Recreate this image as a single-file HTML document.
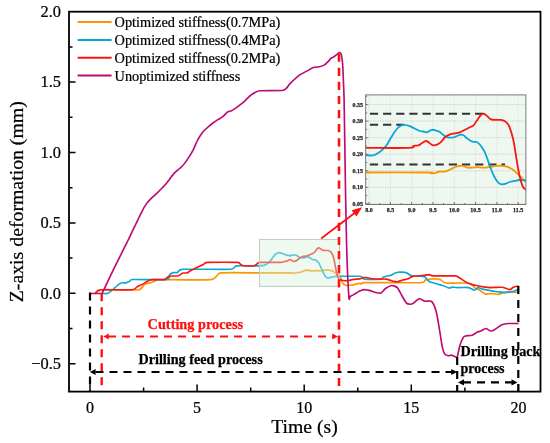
<!DOCTYPE html><html><head><meta charset="utf-8"><title>Z-axis deformation</title><style>html,body{margin:0;padding:0;background:#fff;width:550px;height:443px;overflow:hidden}svg{display:block}.k{stroke:#000;stroke-width:0.22px}.kb{stroke:#000;stroke-width:0.25px}.rb{stroke:#FF1010;stroke-width:0.25px}</style></head><body><svg width="550" height="443" viewBox="0 0 550 443">
<rect width="550" height="443" fill="#fff"/>
<defs><clipPath id="cm"><rect x="69" y="11.7" width="471.5" height="379.9"/></clipPath><clipPath id="ci"><rect x="365.7" y="94.9" width="160.2" height="109.6"/></clipPath></defs>
<g clip-path="url(#cm)" fill="none" stroke-width="1.65" stroke-linejoin="round" stroke-linecap="round">
<path d="M96.0,292.5 C96.7,292.2 99.1,290.2 102.7,290.0 C106.3,289.8 128.7,290.0 132.2,290.0 C135.7,290.0 137.0,290.1 137.8,290.0 C138.7,289.9 140.0,289.5 140.7,289.0 C141.4,288.5 143.7,285.2 144.4,284.6 C145.1,284.0 147.3,283.4 148.0,283.2 C148.7,283.0 150.9,282.7 151.6,282.5 C152.3,282.3 154.6,281.3 155.3,281.0 C156.0,280.7 152.6,279.7 158.2,279.6 C163.8,279.5 204.7,280.3 210.9,279.6 C217.2,278.9 216.1,273.6 220.7,272.9 C225.3,272.2 253.1,272.9 257.0,272.9 C260.9,272.9 256.3,272.9 259.7,272.9 C263.0,272.9 287.3,272.9 290.5,272.9 C293.8,273.0 291.9,273.2 292.4,273.3 C292.8,273.3 294.5,273.1 294.9,273.0 C295.3,273.0 296.3,272.5 296.8,272.5 C297.2,272.4 299.0,272.6 299.5,272.5 C300.1,272.5 301.5,271.9 302.0,271.7 C302.6,271.5 304.5,270.6 305.2,270.4 C305.8,270.3 307.7,270.1 308.3,270.1 C308.8,270.2 310.2,270.8 310.7,270.8 C311.2,270.9 312.7,270.9 313.3,270.8 C313.8,270.8 315.2,270.6 315.8,270.6 C316.3,270.6 318.3,270.8 318.9,270.8 C319.5,270.8 321.4,270.7 322.0,270.6 C322.6,270.5 324.5,270.2 325.1,270.1 C325.7,270.1 327.7,270.1 328.3,270.1 C328.9,270.2 330.8,270.4 331.4,270.6 C332.0,270.8 333.4,271.6 333.9,271.9 C334.3,272.2 335.4,273.0 335.8,273.3 C336.2,273.6 337.2,274.5 337.6,274.8 C338.1,275.1 339.7,275.5 340.2,276.3 C340.7,277.1 341.9,282.4 342.6,283.3 C343.3,284.2 346.0,285.3 346.8,285.5 C347.6,285.7 349.7,285.3 350.5,285.2 C351.3,285.1 354.2,284.6 355.0,284.4 C355.8,284.2 358.2,283.4 358.8,283.4 C359.4,283.4 360.8,284.1 361.4,284.0 C362.0,283.9 359.3,282.7 365.2,282.6 C371.1,282.5 414.0,282.9 420.0,282.7 C426.0,282.5 424.2,280.7 425.0,280.3 C425.8,279.9 426.8,279.3 428.3,279.2 C429.8,279.1 438.0,278.8 439.7,279.2 C441.4,279.6 443.1,282.6 445.7,283.0 C448.3,283.4 463.0,283.0 465.3,283.0 C467.6,283.0 467.8,283.0 468.6,283.3 C469.4,283.6 472.3,285.2 473.0,285.7 C473.7,286.2 474.7,288.0 475.2,288.4 C475.7,288.8 477.8,289.2 478.4,289.5 C479.0,289.8 481.0,291.2 481.7,291.7 C482.4,292.2 484.9,293.9 485.6,294.1 C486.3,294.3 488.2,293.7 489.0,293.7 C489.8,293.7 492.8,293.6 493.7,293.7 C494.6,293.8 497.6,294.5 498.5,294.4 C499.4,294.3 501.6,293.2 502.5,293.0 C503.4,292.8 506.8,292.5 507.9,292.4 C509.0,292.3 512.4,292.1 513.4,292.1 C514.4,292.1 517.8,292.4 518.3,292.4" stroke="#FA9600"/>
<path d="M102.3,293.5 C102.8,293.5 106.8,293.8 107.7,293.5 C108.6,293.2 110.2,291.6 110.9,291.0 C111.6,290.4 114.2,288.4 115.0,287.7 C115.8,287.0 118.4,284.6 119.1,284.1 C119.8,283.6 121.7,282.9 122.4,282.8 C123.1,282.7 125.8,283.0 126.5,282.8 C127.2,282.6 129.0,281.5 129.7,281.2 C130.3,280.9 129.3,279.7 133.0,279.5 C136.7,279.3 162.9,280.0 166.6,279.5 C170.3,279.0 169.1,275.3 169.8,274.6 C170.5,273.9 172.5,272.8 173.3,272.6 C174.1,272.4 176.4,272.9 177.4,272.6 C178.4,272.3 177.8,269.6 183.1,269.3 C188.4,269.0 225.3,269.6 230.6,269.3 C235.9,269.0 233.7,266.2 236.3,265.9 C238.9,265.6 254.7,265.9 257.0,265.9 C259.3,265.9 259.0,265.7 259.7,265.6 C260.3,265.6 262.5,265.7 263.1,265.6 C263.6,265.6 264.5,265.3 264.9,265.1 C265.4,264.9 266.9,264.1 267.4,263.7 C267.9,263.4 269.5,262.1 269.9,261.6 C270.3,261.1 271.4,259.5 271.8,259.0 C272.1,258.4 273.3,256.8 273.7,256.3 C274.1,255.8 275.2,254.5 275.5,254.2 C275.9,253.9 277.0,253.1 277.4,253.0 C277.8,252.8 278.9,252.6 279.3,252.6 C279.7,252.6 281.3,253.0 281.8,253.2 C282.3,253.3 283.8,254.0 284.3,254.2 C284.8,254.4 286.4,255.1 286.8,255.3 C287.2,255.4 288.3,255.4 288.7,255.5 C289.0,255.5 290.1,255.9 290.5,255.8 C290.9,255.7 292.3,254.8 292.8,254.7 C293.2,254.7 294.5,255.0 294.9,255.0 C295.3,255.1 296.4,255.4 296.8,255.6 C297.2,255.8 298.5,256.9 298.9,257.1 C299.3,257.3 300.3,257.9 300.8,257.9 C301.3,258.0 303.3,258.0 303.9,257.9 C304.5,257.8 306.5,257.0 307.0,256.9 C307.5,256.8 308.5,256.9 308.9,257.1 C309.2,257.2 310.3,258.2 310.7,258.4 C311.2,258.7 312.7,259.7 313.3,259.8 C313.8,260.0 315.3,259.8 315.8,260.0 C316.2,260.2 317.2,261.2 317.6,261.6 C318.0,262.1 319.2,263.6 319.5,264.3 C319.9,265.0 321.0,267.6 321.4,268.5 C321.8,269.3 322.9,272.0 323.3,272.8 C323.6,273.5 324.7,275.4 325.1,275.9 C325.5,276.4 326.6,277.5 327.0,277.7 C327.5,277.9 329.0,277.9 329.5,277.8 C330.0,277.7 331.5,277.1 332.0,277.0 C332.5,276.8 334.0,276.5 334.5,276.5 C335.0,276.4 336.7,276.1 337.0,276.1 C337.4,276.1 335.9,276.3 338.2,276.3 C340.5,276.3 357.7,276.1 360.1,276.3 C362.5,276.5 362.2,277.6 362.6,277.9 C363.0,278.2 362.7,279.1 364.5,279.2 C366.3,279.3 378.5,279.4 380.4,279.2 C382.3,279.0 382.9,277.3 383.6,277.0 C384.3,276.7 386.3,276.2 387.0,276.0 C387.7,275.8 389.7,275.7 390.6,275.4 C391.5,275.1 394.9,273.1 395.7,272.8 C396.5,272.5 397.3,272.2 398.3,272.2 C399.3,272.2 404.2,272.1 405.3,272.4 C406.4,272.6 409.1,274.3 409.7,274.7 C410.3,275.1 410.3,275.7 411.6,275.9 C412.9,276.1 421.4,276.3 422.7,276.4 C424.0,276.5 424.6,276.7 425.0,277.0 C425.4,277.3 426.7,279.2 427.2,279.7 C427.7,280.2 429.2,281.6 429.9,281.9 C430.5,282.2 432.8,282.7 433.7,283.0 C434.6,283.3 438.2,284.3 439.2,284.6 C440.2,284.9 442.6,285.4 443.5,285.7 C444.4,286.0 447.3,287.5 447.9,287.7 C448.5,287.9 449.1,288.2 449.5,288.1 C449.9,288.0 451.5,287.2 452.3,287.1 C453.1,287.1 456.3,287.6 457.7,287.6 C459.1,287.6 465.2,287.4 466.4,287.4 C467.6,287.4 468.9,287.6 469.7,287.9 C470.5,288.2 473.7,290.2 474.5,290.2 C475.3,290.2 477.4,287.8 478.0,287.6 C478.6,287.4 480.0,288.4 481.0,288.6 C482.0,288.9 486.0,289.8 487.6,290.1 C489.2,290.4 495.6,291.5 497.1,291.7 C498.6,291.9 501.4,292.4 502.5,292.4 C503.6,292.4 506.8,292.2 507.9,292.1 C509.0,292.0 512.4,291.6 513.4,291.4 C514.4,291.1 517.8,289.8 518.3,289.6" stroke="#0AA8D5"/>
<path d="M95.5,292.9 C95.8,292.6 97.5,290.5 98.2,290.2 C98.9,289.9 99.3,289.8 102.7,289.7 C106.1,289.6 128.8,290.0 132.2,289.7 C135.6,289.4 136.0,287.5 137.1,286.9 C138.2,286.3 142.4,284.3 143.6,283.6 C144.8,282.9 148.6,280.7 149.5,280.3 C150.4,279.9 150.9,279.7 152.4,279.6 C153.9,279.5 162.8,279.9 164.5,279.6 C166.2,279.3 167.7,276.6 169.0,276.2 C170.3,275.8 176.4,276.1 177.5,276.0 C178.6,275.9 179.4,275.1 180.0,274.8 C180.6,274.5 182.3,273.2 183.0,273.0 C183.7,272.8 186.3,273.2 187.0,273.0 C187.7,272.8 189.3,271.4 190.0,271.0 C190.7,270.6 193.1,269.4 194.0,269.0 C194.9,268.6 198.1,266.9 199.0,266.5 C199.9,266.1 202.2,265.2 203.0,264.8 C203.8,264.4 204.1,262.6 207.5,262.4 C210.9,262.2 234.0,262.2 237.3,262.4 C240.6,262.6 239.9,264.0 240.5,264.3 C241.1,264.6 241.8,265.6 243.2,265.7 C244.6,265.8 252.7,265.9 254.1,265.7 C255.5,265.5 256.9,263.9 257.5,263.6 C258.1,263.3 257.2,262.6 259.7,262.4 C262.1,262.3 279.1,262.5 281.5,262.4 C283.9,262.4 283.2,261.7 283.6,261.6 C284.1,261.5 285.7,261.5 286.1,261.4 C286.6,261.3 287.6,260.6 288.0,260.4 C288.4,260.2 289.6,259.5 289.9,259.5 C290.3,259.5 291.2,260.1 291.5,260.2 C291.9,260.4 292.9,261.2 293.3,261.3 C293.7,261.4 295.1,261.2 295.5,261.1 C295.9,261.0 297.0,260.3 297.4,260.0 C297.8,259.7 299.1,258.3 299.5,257.9 C300.0,257.6 301.5,256.8 302.0,256.7 C302.5,256.5 304.0,256.4 304.5,256.3 C305.0,256.2 306.5,256.0 307.0,255.8 C307.5,255.7 309.0,255.0 309.5,254.7 C310.0,254.5 311.6,253.9 312.0,253.7 C312.4,253.5 313.5,253.1 313.9,252.8 C314.3,252.5 315.4,251.0 315.8,250.5 C316.1,250.1 317.3,248.7 317.6,248.4 C317.9,248.1 318.6,247.8 318.9,247.9 C319.2,247.9 320.4,248.7 320.7,248.9 C321.1,249.2 322.2,250.2 322.7,250.3 C323.1,250.5 324.6,250.5 325.1,250.5 C325.6,250.6 327.1,250.4 327.6,250.5 C328.1,250.6 329.7,251.1 330.1,251.4 C330.6,251.7 331.6,252.9 332.0,253.7 C332.4,254.4 333.6,257.8 333.9,259.0 C334.2,260.2 334.9,264.1 335.1,265.3 C335.4,266.6 336.1,270.6 336.4,271.7 C336.6,272.8 337.4,275.7 337.6,276.5 C337.9,277.2 338.7,279.0 338.9,279.3 C339.1,279.6 338.9,279.3 339.2,279.4 C339.5,279.5 341.7,280.2 342.3,280.4 C342.9,280.5 344.6,280.9 345.3,280.9 C346.0,280.9 348.6,280.5 349.4,280.4 C350.2,280.2 352.5,279.5 353.5,279.4 C354.5,279.2 358.6,279.1 359.6,278.9 C360.6,278.7 362.9,277.7 363.6,277.6 C364.3,277.5 365.9,277.5 366.7,277.6 C367.5,277.7 370.6,278.6 371.8,278.7 C373.0,278.8 377.5,279.1 379.0,279.1 C380.5,279.1 384.9,278.9 386.4,279.1 C387.9,279.3 392.5,281.0 393.6,281.3 C394.7,281.6 396.4,281.9 397.3,281.8 C398.2,281.7 401.7,280.3 402.7,280.0 C403.7,279.7 406.3,279.5 407.3,279.1 C408.3,278.7 411.2,276.8 412.7,276.4 C414.2,276.0 421.0,275.7 422.7,275.5 C424.4,275.3 428.3,274.6 429.4,274.6 C430.4,274.6 430.6,275.8 433.2,275.9 C435.8,276.0 452.9,275.7 455.5,275.9 C458.1,276.1 457.7,276.9 458.8,277.5 C459.9,278.1 465.2,281.7 466.4,282.4 C467.6,283.1 469.8,283.8 470.8,284.1 C471.8,284.4 475.0,285.2 476.3,285.5 C477.6,285.8 482.2,286.7 483.6,286.9 C485.0,287.1 488.9,287.6 490.3,287.6 C491.7,287.6 495.9,287.3 497.1,287.3 C498.3,287.3 501.6,287.2 502.5,287.3 C503.4,287.4 505.1,288.1 505.9,288.3 C506.6,288.5 509.2,289.7 510.0,289.6 C510.8,289.5 512.7,287.6 513.4,287.3 C514.1,287.0 516.2,286.4 516.7,286.3 C517.2,286.2 518.1,286.3 518.3,286.3" stroke="#FA1610"/>
<path d="M90.0,293.5 C91.2,293.5 100.3,293.6 101.6,293.5 C102.9,293.4 101.8,293.9 102.6,292.3 C103.4,290.7 108.2,280.6 109.6,277.6 C111.0,274.6 115.6,265.2 116.9,262.6 C118.2,260.0 121.4,253.6 122.5,251.3 C123.6,249.0 127.1,242.2 128.2,240.0 C129.3,237.8 132.4,231.1 133.5,228.8 C134.6,226.6 138.2,219.2 139.0,217.5 C139.8,215.8 141.1,213.2 141.8,211.8 C142.5,210.4 145.4,205.2 146.3,203.9 C147.2,202.6 149.7,199.9 150.8,198.8 C151.9,197.7 156.2,193.9 157.6,192.6 C158.9,191.3 163.2,187.0 164.3,185.8 C165.4,184.6 168.1,181.2 168.9,180.2 C169.7,179.2 171.5,176.4 172.2,175.6 C172.9,174.8 174.9,172.6 175.9,171.7 C176.9,170.8 181.0,167.6 182.2,166.3 C183.4,165.0 186.5,160.7 187.6,159.1 C188.7,157.5 192.1,152.0 193.1,150.1 C194.1,148.2 196.7,141.8 197.6,140.1 C198.5,138.4 201.1,134.2 202.1,132.9 C203.1,131.6 206.4,128.5 207.5,127.5 C208.6,126.5 211.8,123.8 212.9,123.0 C214.0,122.2 217.3,120.0 218.3,119.4 C219.3,118.8 221.9,117.4 222.8,116.7 C223.7,116.0 226.5,112.7 227.3,112.1 C228.1,111.5 230.1,111.4 231.0,110.9 C231.9,110.5 235.5,108.2 236.4,107.6 C237.3,107.0 239.2,105.5 240.0,104.9 C240.8,104.3 243.4,102.3 244.5,101.3 C245.6,100.3 249.2,96.2 250.7,95.2 C252.2,94.2 256.2,91.3 259.5,90.8 C262.8,90.3 280.4,90.9 283.5,90.2 C286.6,89.5 288.4,85.1 290.0,83.6 C291.6,82.1 297.9,76.2 299.8,74.9 C301.7,73.6 307.2,70.9 308.6,70.1 C310.0,69.3 312.9,67.6 314.0,67.3 C315.1,67.0 318.5,67.0 319.5,66.8 C320.5,66.6 323.2,65.6 324.1,65.1 C325.0,64.6 327.4,62.4 328.1,61.7 C328.8,61.0 330.2,58.8 330.8,58.3 C331.4,57.8 333.1,57.3 333.6,57.0 C334.2,56.7 335.7,55.4 336.3,54.9 C336.9,54.4 338.9,52.6 339.4,52.5 C339.9,52.4 340.7,53.0 341.0,53.6 C341.3,54.2 341.9,57.6 342.1,59.0 C342.3,60.4 342.7,64.9 342.8,67.1 C342.9,69.3 343.3,77.4 343.4,80.7 C343.5,84.0 344.0,93.1 344.1,100.0 C344.2,106.9 344.8,140.5 344.9,150.0 C345.0,159.5 345.4,185.5 345.6,195.0 C345.8,204.5 346.3,234.8 346.6,245.0 C346.9,255.2 348.5,292.1 348.9,297.2 C349.3,302.3 349.8,296.5 350.4,296.2 C351.0,295.9 353.7,294.6 354.5,294.1 C355.3,293.6 357.6,292.1 358.5,291.6 C359.4,291.2 362.7,289.8 363.6,289.6 C364.5,289.5 367.0,290.0 367.7,290.1 C368.4,290.2 370.0,290.6 370.9,290.9 C371.8,291.2 375.4,292.5 376.4,292.7 C377.4,292.9 380.0,293.5 380.9,293.1 C381.8,292.7 384.4,289.3 385.5,288.5 C386.6,287.7 390.6,285.6 391.8,285.5 C393.0,285.4 396.3,286.6 397.3,287.6 C398.3,288.6 400.9,293.9 401.8,295.5 C402.7,297.1 405.6,302.2 406.4,303.1 C407.2,304.0 409.3,304.2 410.0,304.2 C410.7,304.2 412.7,303.7 413.6,303.1 C414.5,302.6 418.0,298.9 419.1,298.7 C420.2,298.5 423.8,300.9 425.0,301.2 C426.2,301.4 430.2,300.6 431.2,301.2 C432.2,301.8 434.3,305.8 434.9,307.4 C435.5,309.0 436.9,314.8 437.4,317.3 C437.9,319.8 439.4,329.2 439.9,332.2 C440.4,335.2 441.8,344.9 442.3,347.1 C442.8,349.3 444.2,353.2 444.8,354.1 C445.4,355.0 448.0,355.7 448.6,355.8 C449.2,355.9 450.4,355.0 451.0,355.1 C451.6,355.2 454.2,356.3 454.8,356.5 C455.4,356.7 456.7,358.1 457.2,357.0 C457.7,355.9 459.1,347.9 459.7,345.9 C460.3,343.9 462.9,338.2 463.5,337.2 C464.1,336.2 465.0,336.1 465.9,335.9 C466.8,335.7 471.0,335.6 472.1,335.2 C473.2,334.8 476.2,332.6 477.1,332.2 C478.0,331.8 479.9,331.4 480.8,331.0 C481.7,330.6 484.8,328.5 485.8,328.5 C486.8,328.5 489.9,330.9 490.8,331.0 C491.7,331.1 493.4,330.3 494.5,329.7 C495.6,329.1 500.5,325.4 501.9,324.8 C503.3,324.2 506.6,323.6 508.2,323.5 C509.8,323.4 517.1,323.5 518.1,323.5" stroke="#BC0A72"/>
</g>
<rect x="259.5" y="239.5" width="80" height="46.9" fill="#D6F0DA" fill-opacity="0.42" stroke="#c5ccc6" stroke-width="1.1"/>
<g fill="none" stroke-width="2.2">
<line x1="90" y1="292.5" x2="90" y2="391" stroke="#000" stroke-dasharray="8 6"/>
<line x1="457.2" y1="357" x2="457.2" y2="391" stroke="#000" stroke-dasharray="8 6"/>
<line x1="518.3" y1="286" x2="518.3" y2="391" stroke="#000" stroke-dasharray="8 6"/>
<line x1="101.7" y1="293.2" x2="101.7" y2="391" stroke="#FF1010" stroke-width="2.4" stroke-dasharray="8 6"/>
<line x1="339" y1="53.6" x2="339" y2="391" stroke="#FF1010" stroke-width="2.6" stroke-dasharray="8.2 5.9"/>
<line x1="108" y1="336.5" x2="333" y2="336.5" stroke="#FF1010" stroke-dasharray="8 6"/>
<line x1="95.5" y1="372" x2="452" y2="372" stroke="#000" stroke-dasharray="8 6"/>
<line x1="463" y1="382.4" x2="513" y2="382.4" stroke="#000" stroke-dasharray="8 6"/>
</g>
<polygon points="103.3,336.5 108.8,333.6 108.8,339.4" fill="#FF1010"/>
<polygon points="337.9,336.5 332.3,333.5 332.3,339.5" fill="#FF1010"/>
<polygon points="89.8,372 95.6,369.1 95.6,374.9" fill="#000"/>
<polygon points="457.2,372 451.2,368.9 451.2,375.1" fill="#000"/>
<polygon points="458,382.4 464,379.3 464,385.5" fill="#000"/>
<polygon points="517.5,382.4 511.5,379.3 511.5,385.5" fill="#000"/>
<line x1="321.2" y1="238.5" x2="355" y2="212.7" stroke="#FF1010" stroke-width="1.8"/>
<polygon points="362.1,207.3 351.6,210.2 356.5,216.6" fill="#FF1010"/>
<rect x="69" y="11.7" width="471.5" height="379.9" fill="none" stroke="#000" stroke-width="1.8"/>
<path d="M69,82.1h6.5 M69,152.5h6.5 M69,222.9h6.5 M69,293.3h6.5 M69,363.7h6.5 M69,46.9h3.5 M69,117.3h3.5 M69,187.7h3.5 M69,258.1h3.5 M69,328.5h3.5 M90.0,391.6v-7 M197.1,391.6v-7 M304.2,391.6v-7 M411.3,391.6v-7 M518.4,391.6v-7 M143.6,391.6v-4 M250.7,391.6v-4 M357.8,391.6v-4 M464.9,391.6v-4" stroke="#000" stroke-width="1.5" fill="none"/>
<text x="61" y="16.9" font-family="Liberation Serif, serif" font-size="16.4" text-anchor="end" fill="#000" class="k">2.0</text>
<text x="61" y="87.3" font-family="Liberation Serif, serif" font-size="16.4" text-anchor="end" fill="#000" class="k">1.5</text>
<text x="61" y="157.7" font-family="Liberation Serif, serif" font-size="16.4" text-anchor="end" fill="#000" class="k">1.0</text>
<text x="61" y="228.1" font-family="Liberation Serif, serif" font-size="16.4" text-anchor="end" fill="#000" class="k">0.5</text>
<text x="61" y="298.5" font-family="Liberation Serif, serif" font-size="16.4" text-anchor="end" fill="#000" class="k">0.0</text>
<text x="61" y="368.9" font-family="Liberation Serif, serif" font-size="16.4" text-anchor="end" fill="#000" class="k">−0.5</text>
<text x="90.0" y="412.9" font-family="Liberation Serif, serif" font-size="16" text-anchor="middle" fill="#000" class="k">0</text>
<text x="197.1" y="412.9" font-family="Liberation Serif, serif" font-size="16" text-anchor="middle" fill="#000" class="k">5</text>
<text x="304.2" y="412.9" font-family="Liberation Serif, serif" font-size="16" text-anchor="middle" fill="#000" class="k">10</text>
<text x="411.3" y="412.9" font-family="Liberation Serif, serif" font-size="16" text-anchor="middle" fill="#000" class="k">15</text>
<text x="518.4" y="412.9" font-family="Liberation Serif, serif" font-size="16" text-anchor="middle" fill="#000" class="k">20</text>
<text x="304.5" y="432.7" font-family="Liberation Serif, serif" font-size="19.7" text-anchor="middle" fill="#000" class="k">Time (s)</text>
<text transform="translate(23.2,201.7) rotate(-90)" font-family="Liberation Serif, serif" font-size="19.8" text-anchor="middle" fill="#000" class="k">Z-axis deformation (mm)</text>
<line x1="77.6" y1="22" x2="111.6" y2="22" stroke="#FA9600" stroke-width="2"/>
<text x="114.6" y="27.2" font-family="Liberation Serif, serif" font-size="14.3" fill="#000" class="k">Optimized stiffness(0.7MPa)</text>
<line x1="77.6" y1="40" x2="111.6" y2="40" stroke="#0AA8D5" stroke-width="2"/>
<text x="114.6" y="45.2" font-family="Liberation Serif, serif" font-size="14.3" fill="#000" class="k">Optimized stiffness(0.4MPa)</text>
<line x1="77.6" y1="57.8" x2="111.6" y2="57.8" stroke="#FA1610" stroke-width="2"/>
<text x="114.6" y="63.0" font-family="Liberation Serif, serif" font-size="14.3" fill="#000" class="k">Optimized stiffness(0.2MPa)</text>
<line x1="77.6" y1="75.5" x2="111.6" y2="75.5" stroke="#BC0A72" stroke-width="2"/>
<text x="114.6" y="80.7" font-family="Liberation Serif, serif" font-size="14.3" fill="#000" class="k">Unoptimized stiffness</text>
<text x="147.6" y="328.5" font-family="Liberation Serif, serif" font-size="14.3" font-weight="bold" fill="#FF1010" class="rb">Cutting process</text>
<text x="138.4" y="364.3" font-family="Liberation Serif, serif" font-size="14.2" font-weight="bold" fill="#000" class="kb">Drilling feed process</text>
<text x="460.5" y="356.4" font-family="Liberation Serif, serif" font-size="14.2" font-weight="bold" fill="#000" class="kb">Drilling back</text>
<text x="460.5" y="373.2" font-family="Liberation Serif, serif" font-size="14" font-weight="bold" fill="#000" class="kb">process</text>
<rect x="365.7" y="94.9" width="160.2" height="109.6" fill="#EFF8F0"/>
<path d="M369.1,94.9V204.5 M390.4,94.9V204.5 M411.7,94.9V204.5 M433.0,94.9V204.5 M454.3,94.9V204.5 M475.6,94.9V204.5 M496.9,94.9V204.5 M518.2,94.9V204.5" stroke="#cdd5cd" stroke-width="0.8" stroke-dasharray="1.2 1.6" fill="none"/>
<path d="M365.7,104.6H525.9 M365.7,121.1H525.9 M365.7,137.7H525.9 M365.7,154.2H525.9 M365.7,170.8H525.9 M365.7,187.3H525.9 M365.7,203.8H525.9" stroke="#bcc4bc" stroke-width="0.8" stroke-dasharray="1.2 1.2" fill="none"/>
<g stroke="#333" stroke-width="2" stroke-dasharray="8.2 4.95" fill="none">
<line x1="369.9" y1="113.7" x2="484" y2="113.7"/>
<line x1="369.9" y1="124.7" x2="404" y2="124.7"/>
<line x1="369.9" y1="164.6" x2="505" y2="164.6"/>
</g>
<g clip-path="url(#ci)" fill="none" stroke-width="1.8" stroke-linejoin="round" stroke-linecap="round">
<path d="M365.7,172.5 C375.9,172.5 416.2,172.4 427.1,172.5 C438.0,172.6 429.4,173.2 430.8,173.3 C432.2,173.4 434.4,173.1 435.8,172.8 C437.2,172.5 438.0,171.7 439.5,171.5 C441.0,171.3 443.2,171.9 445.0,171.6 C446.8,171.3 448.1,170.4 450.0,169.6 C451.9,168.8 454.1,167.2 456.2,166.6 C458.3,166.0 460.5,165.7 462.4,165.9 C464.2,166.1 465.6,167.3 467.3,167.6 C469.0,167.9 470.6,167.7 472.3,167.6 C474.0,167.5 475.4,167.1 477.3,167.1 C479.2,167.1 481.4,167.6 483.5,167.6 C485.6,167.6 487.6,167.4 489.7,167.1 C491.8,166.8 493.8,166.1 495.9,165.9 C498.0,165.7 500.1,165.7 502.2,165.9 C504.3,166.1 506.5,166.4 508.4,167.1 C510.2,167.8 511.8,169.1 513.3,170.1 C514.8,171.1 515.9,172.2 517.1,173.3 C518.4,174.5 519.6,175.8 520.8,177.0 C522.0,178.2 523.5,180.0 524.5,180.8 C525.5,181.6 526.4,181.8 526.8,182.0" stroke="#FA9600"/>
<path d="M365.7,155.4 C366.8,155.4 370.8,155.6 372.5,155.4 C374.2,155.2 374.8,154.8 376.2,154.1 C377.6,153.3 379.5,152.3 381.1,150.9 C382.8,149.5 384.7,147.8 386.1,145.9 C387.6,144.0 388.6,141.8 389.8,139.7 C391.1,137.6 392.4,135.4 393.6,133.5 C394.9,131.6 396.1,129.8 397.3,128.5 C398.5,127.2 399.8,126.2 401.0,125.6 C402.2,125.0 403.4,124.7 404.8,124.8 C406.2,124.9 408.1,125.5 409.7,126.1 C411.3,126.7 413.0,127.7 414.7,128.5 C416.4,129.3 418.2,130.5 419.7,131.0 C421.1,131.5 422.2,131.3 423.4,131.5 C424.6,131.7 425.7,132.6 427.1,132.3 C428.5,132.0 430.2,130.1 431.6,129.8 C433.1,129.5 434.5,130.2 435.8,130.5 C437.1,130.8 438.2,131.0 439.5,131.8 C440.8,132.6 442.4,134.4 443.7,135.3 C445.0,136.2 445.8,137.0 447.5,137.3 C449.2,137.6 451.6,137.7 453.7,137.3 C455.8,136.9 458.2,135.1 459.9,134.8 C461.5,134.5 462.4,134.7 463.6,135.3 C464.8,135.9 465.9,137.4 467.3,138.5 C468.8,139.6 470.6,141.1 472.3,141.7 C474.0,142.3 475.9,141.5 477.3,142.2 C478.8,142.9 479.8,144.3 481.0,146.0 C482.2,147.7 483.6,149.5 484.8,152.2 C486.1,154.9 487.3,158.8 488.5,162.1 C489.7,165.4 491.0,169.2 492.2,172.1 C493.4,175.0 494.6,177.6 495.9,179.5 C497.1,181.4 498.2,183.1 499.7,183.8 C501.1,184.6 503.0,184.3 504.6,184.0 C506.2,183.7 507.9,182.5 509.6,182.0 C511.3,181.5 512.9,181.1 514.6,180.8 C516.3,180.5 517.6,180.1 519.6,180.0 C521.6,179.9 525.6,180.2 526.8,180.3" stroke="#0AA8D5"/>
<path d="M365.7,147.9 C372.9,147.9 401.2,148.2 409.2,147.9 C417.1,147.6 411.9,146.3 413.4,145.9 C414.9,145.5 416.9,145.9 418.4,145.4 C419.8,144.9 420.9,143.7 422.1,143.0 C423.4,142.3 424.7,141.1 425.9,141.0 C427.1,140.9 428.0,142.0 429.1,142.7 C430.2,143.4 431.3,144.9 432.6,145.2 C433.9,145.5 435.6,145.2 437.0,144.7 C438.4,144.2 439.5,143.4 440.8,142.2 C442.1,141.0 443.5,138.6 445.0,137.3 C446.5,136.0 448.4,134.9 450.0,134.3 C451.6,133.7 453.2,133.8 454.9,133.5 C456.5,133.2 458.2,132.9 459.9,132.3 C461.6,131.7 463.2,130.6 464.9,129.8 C466.5,129.0 468.4,128.1 469.8,127.3 C471.2,126.5 472.4,126.5 473.6,125.3 C474.9,124.1 476.1,121.6 477.3,119.9 C478.5,118.2 480.0,116.0 481.0,114.9 C482.0,113.9 482.5,113.4 483.5,113.6 C484.5,113.8 485.9,115.1 487.2,116.1 C488.4,117.1 489.6,118.8 491.0,119.4 C492.4,120.0 494.2,119.8 495.9,119.9 C497.5,120.0 499.2,119.6 500.9,119.9 C502.6,120.2 504.4,120.7 505.9,121.9 C507.3,123.1 508.4,124.3 509.6,127.3 C510.8,130.3 512.3,135.2 513.3,139.8 C514.3,144.4 515.0,149.7 515.8,154.7 C516.6,159.7 517.5,165.2 518.3,169.6 C519.1,173.9 520.0,177.8 520.8,180.8 C521.6,183.8 522.3,186.0 523.3,187.5 C524.3,189.0 526.2,189.6 526.8,190.0" stroke="#FA1610"/>
</g>
<rect x="365.7" y="94.9" width="160.2" height="109.6" fill="none" stroke="#6a6a6a" stroke-width="0.9"/>
<path d="M365.7,104.6h2.5 M365.7,112.9h1.5 M365.7,121.1h2.5 M365.7,129.4h1.5 M365.7,137.7h2.5 M365.7,146.0h1.5 M365.7,154.2h2.5 M365.7,162.5h1.5 M365.7,170.8h2.5 M365.7,179.0h1.5 M365.7,187.3h2.5 M365.7,195.6h1.5 M365.7,203.8h2.5 M365.7,96.3h1.5 M369.1,204.5v-2.5 M379.8,204.5v-1.5 M390.4,204.5v-2.5 M401.1,204.5v-1.5 M411.7,204.5v-2.5 M422.4,204.5v-1.5 M433.0,204.5v-2.5 M443.6,204.5v-1.5 M454.3,204.5v-2.5 M464.9,204.5v-1.5 M475.6,204.5v-2.5 M486.2,204.5v-1.5 M496.9,204.5v-2.5 M507.6,204.5v-1.5 M518.2,204.5v-2.5" stroke="#555" stroke-width="0.8" fill="none"/>
<text x="363" y="106.7" font-family="Liberation Serif, serif" font-weight="bold" font-size="6" text-anchor="end" fill="#222" stroke="#222" stroke-width="0.25">0.35</text>
<text x="363" y="123.2" font-family="Liberation Serif, serif" font-weight="bold" font-size="6" text-anchor="end" fill="#222" stroke="#222" stroke-width="0.25">0.30</text>
<text x="363" y="139.8" font-family="Liberation Serif, serif" font-weight="bold" font-size="6" text-anchor="end" fill="#222" stroke="#222" stroke-width="0.25">0.25</text>
<text x="363" y="156.3" font-family="Liberation Serif, serif" font-weight="bold" font-size="6" text-anchor="end" fill="#222" stroke="#222" stroke-width="0.25">0.20</text>
<text x="363" y="172.9" font-family="Liberation Serif, serif" font-weight="bold" font-size="6" text-anchor="end" fill="#222" stroke="#222" stroke-width="0.25">0.15</text>
<text x="363" y="189.4" font-family="Liberation Serif, serif" font-weight="bold" font-size="6" text-anchor="end" fill="#222" stroke="#222" stroke-width="0.25">0.10</text>
<text x="363" y="205.9" font-family="Liberation Serif, serif" font-weight="bold" font-size="6" text-anchor="end" fill="#222" stroke="#222" stroke-width="0.25">0.05</text>
<text x="369.1" y="211.6" font-family="Liberation Serif, serif" font-weight="bold" font-size="6" text-anchor="middle" fill="#222" stroke="#222" stroke-width="0.25">8.0</text>
<text x="390.4" y="211.6" font-family="Liberation Serif, serif" font-weight="bold" font-size="6" text-anchor="middle" fill="#222" stroke="#222" stroke-width="0.25">8.5</text>
<text x="411.7" y="211.6" font-family="Liberation Serif, serif" font-weight="bold" font-size="6" text-anchor="middle" fill="#222" stroke="#222" stroke-width="0.25">9.0</text>
<text x="433.0" y="211.6" font-family="Liberation Serif, serif" font-weight="bold" font-size="6" text-anchor="middle" fill="#222" stroke="#222" stroke-width="0.25">9.5</text>
<text x="454.3" y="211.6" font-family="Liberation Serif, serif" font-weight="bold" font-size="6" text-anchor="middle" fill="#222" stroke="#222" stroke-width="0.25">10.0</text>
<text x="475.6" y="211.6" font-family="Liberation Serif, serif" font-weight="bold" font-size="6" text-anchor="middle" fill="#222" stroke="#222" stroke-width="0.25">10.5</text>
<text x="496.9" y="211.6" font-family="Liberation Serif, serif" font-weight="bold" font-size="6" text-anchor="middle" fill="#222" stroke="#222" stroke-width="0.25">11.0</text>
<text x="518.2" y="211.6" font-family="Liberation Serif, serif" font-weight="bold" font-size="6" text-anchor="middle" fill="#222" stroke="#222" stroke-width="0.25">11.5</text>
</svg></body></html>
